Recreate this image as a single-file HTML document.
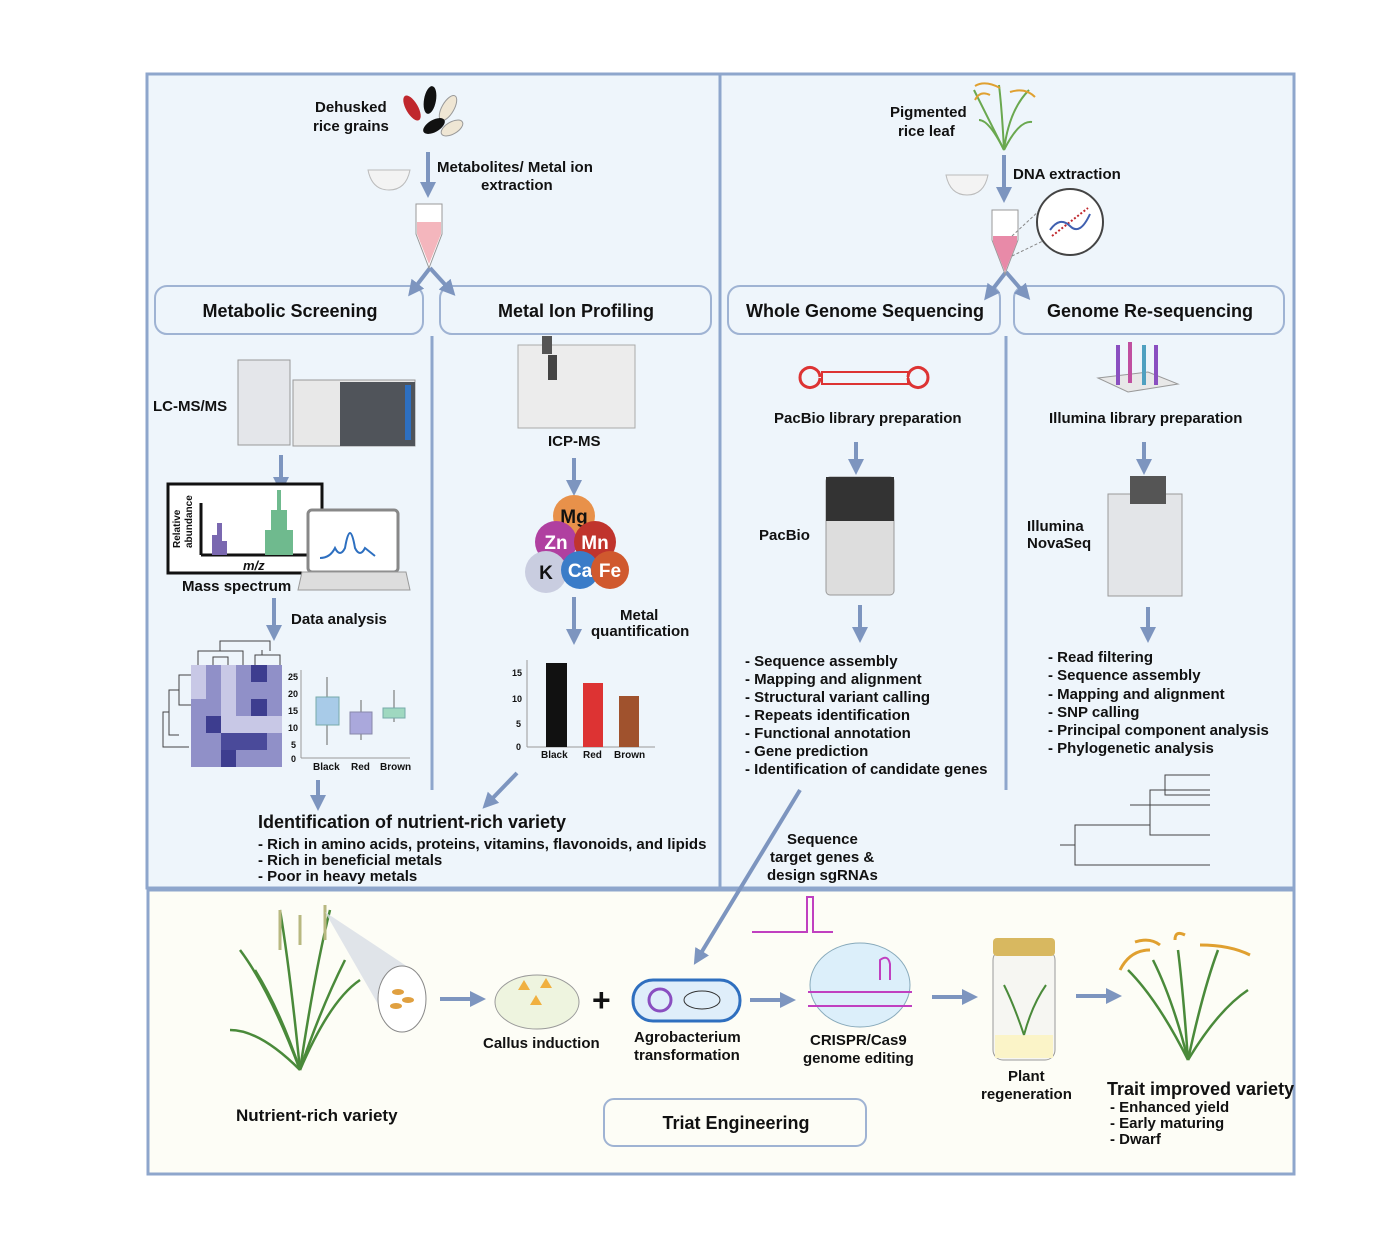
<!DOCTYPE html>
<html><head><meta charset="utf-8"><style>
html,body{margin:0;padding:0;background:#fff}
svg{display:block}
text{font-family:"Liberation Sans",sans-serif;font-weight:bold;fill:#111}
</style></head><body>
<svg width="1392" height="1248" viewBox="0 0 1392 1248" xmlns="http://www.w3.org/2000/svg">
<defs>
<marker id="ah" viewBox="0 0 10 10" refX="5" refY="5" markerWidth="4" markerHeight="4" orient="auto"><path d="M0,0L10,5L0,10z" fill="#7d95bf"/></marker>
</defs>
<rect x="147" y="74" width="573" height="814" fill="#eef5fb" stroke="#8ea6cc" stroke-width="3"/>
<rect x="720" y="74" width="574" height="814" fill="#eef5fb" stroke="#8ea6cc" stroke-width="3"/>
<rect x="148" y="890" width="1146" height="284" fill="#fdfdf6" stroke="#8ea6cc" stroke-width="3"/>
<g fill="#eef5fb" stroke="#9fb3d3" stroke-width="2">
<rect x="155" y="286" width="268" height="48" rx="12"/>
<rect x="440" y="286" width="271" height="48" rx="12"/>
<rect x="728" y="286" width="272" height="48" rx="12"/>
<rect x="1014" y="286" width="270" height="48" rx="12"/>
<rect x="604" y="1099" width="262" height="47" rx="10" fill="#fdfdf6"/>
</g>
<g stroke="#8ea6cc" stroke-width="3"><line x1="432" y1="336" x2="432" y2="790"/><line x1="1006" y1="336" x2="1006" y2="790"/></g>
<g font-size="18" text-anchor="middle">
<text x="290" y="317">Metabolic Screening</text>
<text x="576" y="317">Metal Ion Profiling</text>
<text x="865" y="317">Whole Genome Sequencing</text>
<text x="1150" y="317">Genome Re-sequencing</text>
<text x="736" y="1129">Triat Engineering</text>
</g>
<g stroke="#7d95bf" stroke-width="4" fill="none" marker-end="url(#ah)">
<line x1="428" y1="152" x2="428" y2="190"/>
<line x1="430" y1="268" x2="413" y2="290"/>
<line x1="430" y1="268" x2="450" y2="290"/>
<line x1="1004" y1="155" x2="1004" y2="195"/>
<line x1="1006" y1="272" x2="989" y2="294"/>
<line x1="1006" y1="272" x2="1025" y2="294"/>
<line x1="281" y1="455" x2="281" y2="485"/>
<line x1="274" y1="598" x2="274" y2="633"/>
<line x1="318" y1="780" x2="318" y2="803"/>
<line x1="517" y1="773" x2="488" y2="803"/>
<line x1="574" y1="458" x2="574" y2="488"/>
<line x1="574" y1="597" x2="574" y2="637"/>
<line x1="856" y1="442" x2="856" y2="467"/>
<line x1="860" y1="605" x2="860" y2="635"/>
<line x1="1144" y1="442" x2="1144" y2="467"/>
<line x1="1148" y1="607" x2="1148" y2="635"/>
<line x1="800" y1="790" x2="698" y2="958"/>
<line x1="440" y1="999" x2="478" y2="999"/>
<line x1="750" y1="1000" x2="788" y2="1000"/>
<line x1="932" y1="997" x2="970" y2="997"/>
<line x1="1076" y1="996" x2="1114" y2="996"/>
</g>
<g font-size="15">
<text x="315" y="112">Dehusked</text><text x="313" y="131">rice grains</text>
<text x="437" y="172">Metabolites/ Metal ion</text><text x="481" y="190">extraction</text>
<text x="153" y="411">LC-MS/MS</text>
<text x="182" y="591">Mass spectrum</text>
<text x="291" y="624">Data analysis</text>
<text x="548" y="446">ICP-MS</text>
<text x="620" y="620">Metal</text><text x="591" y="636">quantification</text>
<text x="890" y="117">Pigmented</text><text x="898" y="136">rice leaf</text>
<text x="1013" y="179">DNA extraction</text>
<text x="774" y="423">PacBio library preparation</text>
<text x="759" y="540">PacBio</text>
<text x="1049" y="423">Illumina library preparation</text>
<text x="1027" y="531">Illumina</text><text x="1027" y="548">NovaSeq</text>
<text x="787" y="844">Sequence</text><text x="770" y="862">target genes &amp;</text><text x="767" y="880">design sgRNAs</text>
</g>
<g font-size="15">
<text x="745" y="666">-  Sequence assembly</text>
<text x="745" y="684">-  Mapping and alignment</text>
<text x="745" y="702">-  Structural variant calling</text>
<text x="745" y="720">-  Repeats identification</text>
<text x="745" y="738">-  Functional annotation</text>
<text x="745" y="756">-  Gene prediction</text>
<text x="745" y="774">-  Identification of candidate genes</text>
<text x="1048" y="662">-  Read filtering</text>
<text x="1048" y="680">-  Sequence assembly</text>
<text x="1048" y="699">-  Mapping and alignment</text>
<text x="1048" y="717">-  SNP calling</text>
<text x="1048" y="735">-  Principal component analysis</text>
<text x="1048" y="753">-  Phylogenetic analysis</text>
</g>
<text x="258" y="828" font-size="18">Identification of nutrient-rich variety</text>
<g font-size="15">
<text x="258" y="849">-   Rich in amino acids, proteins, vitamins, flavonoids, and lipids</text>
<text x="258" y="865">-   Rich in beneficial metals</text>
<text x="258" y="881">-   Poor in heavy metals</text>
</g>
<g font-size="15">
<text x="483" y="1048">Callus induction</text>
<text x="634" y="1042">Agrobacterium</text><text x="634" y="1060">transformation</text>
<text x="810" y="1045">CRISPR/Cas9</text><text x="803" y="1063">genome editing</text>
<text x="1008" y="1081">Plant</text><text x="981" y="1099">regeneration</text>
<text x="1110" y="1112">-   Enhanced yield</text>
<text x="1110" y="1128">-   Early maturing</text>
<text x="1110" y="1144">-   Dwarf</text>
</g>
<text x="236" y="1121" font-size="17">Nutrient-rich variety</text>
<text x="1107" y="1095" font-size="18">Trait improved variety</text>
<text x="592" y="1011" font-size="32" font-weight="normal">+</text>
<g><ellipse cx="412" cy="108" rx="6" ry="14" fill="#c0272d" transform="rotate(-30 412 108)"/><ellipse cx="430" cy="100" rx="6" ry="14" fill="#111" transform="rotate(10 430 100)"/><ellipse cx="448" cy="108" rx="6" ry="14" fill="#efe6d4" stroke="#999" transform="rotate(30 448 108)"/><ellipse cx="434" cy="126" rx="6" ry="12" fill="#111" transform="rotate(60 434 126)"/><ellipse cx="452" cy="128" rx="6" ry="12" fill="#efe6d4" stroke="#999" transform="rotate(60 452 128)"/></g>
<path d="M368 170 h42 q-4 20 -21 20 q-17 0 -21 -20z" fill="#f3f3f3" stroke="#bbb"/>
<path d="M946 175 h42 q-4 20 -21 20 q-17 0 -21 -20z" fill="#f3f3f3" stroke="#bbb"/>
<path d="M416 204 h26 v30 l-13 34 l-13 -34z" fill="#fff" stroke="#999"/><path d="M417 222 h24 v12 l-12 30 l-12 -30z" fill="#f4b6bd"/>
<path d="M992 210 h26 v30 l-13 34 l-13 -34z" fill="#fff" stroke="#999"/><path d="M993 236 h24 v6 l-12 30 l-12 -30z" fill="#e88aa8"/>
<line x1="1012" y1="236" x2="1040" y2="210" stroke="#888" stroke-dasharray="3,2"/><line x1="1012" y1="256" x2="1045" y2="240" stroke="#888" stroke-dasharray="3,2"/>
<circle cx="1070" cy="222" r="33" fill="#fff" stroke="#444" stroke-width="2"/>
<path d="M1052 236 l36 -28" stroke="#c0272d" stroke-width="2" fill="none" stroke-dasharray="2,2"/><path d="M1050 230 q10 -14 20 -4 q10 10 20 -12" stroke="#4060b0" stroke-width="2" fill="none"/>
<g stroke="#6aa84f" stroke-width="2" fill="none"><path d="M1004 150 q-20 -40 -30 -60"/><path d="M1004 150 q5 -40 25 -60"/><path d="M1004 150 q-2 -40 -5 -65"/><path d="M1004 150 q-15 -30 -25 -30"/><path d="M1004 150 q15 -30 28 -28"/></g>
<g stroke="#e0a030" stroke-width="2" fill="none"><path d="M990 95 q-10 -5 -15 5"/><path d="M1010 92 q15 -5 25 5"/><path d="M1000 88 q-15 -8 -25 -2"/></g>
<rect x="238" y="360" width="52" height="85" fill="#e4e6ea" stroke="#999"/><rect x="293" y="380" width="122" height="66" fill="#e8e8e8" stroke="#999"/><rect x="340" y="382" width="75" height="64" fill="#50545a"/><rect x="405" y="385" width="6" height="55" fill="#2d6fc0"/>
<rect x="168" y="484" width="154" height="89" fill="#fff" stroke="#111" stroke-width="3"/>
<line x1="201" y1="503" x2="201" y2="555" stroke="#111" stroke-width="3"/><line x1="201" y1="555" x2="315" y2="555" stroke="#111" stroke-width="3"/>
<path d="M212 555 v-20 h5 v-12 h5 v18 h5 v14z" fill="#7a68b0"/><path d="M265 555 v-25 h6 v-20 h6 v-20 h4 v20 h6 v20 h6 v25z" fill="#6fba8e"/>
<text x="243" y="570" font-size="13" font-style="italic" font-weight="normal">m/z</text>
<text x="180" y="548" font-size="10" font-weight="normal" transform="rotate(-90 180 548)">Relative</text><text x="192" y="548" font-size="10" font-weight="normal" transform="rotate(-90 192 548)">abundance</text>
<rect x="308" y="510" width="90" height="62" rx="4" fill="#fff" stroke="#888" stroke-width="3"/><path d="M302 572 h104 l4 18 h-112z" fill="#ddd" stroke="#999"/>
<path d="M320 558 q10 0 15 -10 q5 10 10 0 q5 -30 10 0 q5 10 10 0 l10 8" stroke="#2d6fc0" stroke-width="2" fill="none"/>
<g>
<rect x="191" y="665" width="91" height="102" fill="#9090c8"/>
<rect x="191" y="665" width="15" height="34" fill="#c8c8e6"/><rect x="221" y="665" width="15" height="68" fill="#c8c8e6"/><rect x="251" y="665" width="16" height="17" fill="#3d3d8f"/><rect x="251" y="699" width="16" height="17" fill="#3d3d8f"/><rect x="206" y="716" width="15" height="17" fill="#3d3d8f"/><rect x="236" y="716" width="46" height="17" fill="#c8c8e6"/><rect x="221" y="733" width="46" height="17" fill="#4a4a9a"/><rect x="221" y="750" width="15" height="17" fill="#3d3d8f"/>
</g>
<g stroke="#444" fill="none"><path d="M198 665 v-14 h45 v14 M213 665 v-8 h15 v8 M220 651 v-10 h50 v10 M255 665 v-10 h25 v10 M262 655 v-5 M191 675 h-12 v30 h12 M179 690 h-10 v45 h10 M169 712 h-6 v35 h26"/></g>
<g font-size="9" font-weight="normal" fill="#555"><text x="288" y="680">25</text><text x="288" y="697">20</text><text x="288" y="714">15</text><text x="288" y="731">10</text><text x="291" y="748">5</text><text x="291" y="762">0</text></g>
<line x1="301" y1="670" x2="301" y2="758" stroke="#999"/><line x1="301" y1="758" x2="410" y2="758" stroke="#999"/>
<g stroke="#666"><line x1="327" y1="677" x2="327" y2="745"/><line x1="361" y1="700" x2="361" y2="740"/><line x1="394" y1="690" x2="394" y2="722"/></g>
<rect x="316" y="697" width="23" height="28" fill="#a8cbe8" stroke="#7aa"/><rect x="350" y="712" width="22" height="22" fill="#aaa8dc" stroke="#88a"/><rect x="383" y="708" width="22" height="10" fill="#9fd8c0" stroke="#7aa"/>
<g font-size="10"><text x="313" y="770">Black</text><text x="351" y="770">Red</text><text x="380" y="770">Brown</text></g>
<rect x="518" y="345" width="117" height="83" fill="#ececec" stroke="#aaa"/><rect x="542" y="336" width="10" height="18" fill="#555"/><rect x="548" y="355" width="9" height="25" fill="#444"/>
<g font-size="19" font-weight="normal" text-anchor="middle">
<circle cx="574" cy="516" r="21" fill="#e8914a"/><text x="574" y="523">Mg</text>
<circle cx="556" cy="542" r="21" fill="#b040a0"/><text x="556" y="549" style="fill:#fff">Zn</text>
<circle cx="595" cy="542" r="21" fill="#c0342d"/><text x="595" y="549" style="fill:#fff">Mn</text>
<circle cx="546" cy="572" r="21" fill="#c9cde0"/><text x="546" y="579">K</text>
<circle cx="580" cy="570" r="19" fill="#3a7cc8"/><text x="580" y="577" style="fill:#fff">Ca</text>
<circle cx="610" cy="570" r="19" fill="#d0592e"/><text x="610" y="577" style="fill:#fff">Fe</text>
</g>
<line x1="527" y1="660" x2="527" y2="747" stroke="#999"/><line x1="527" y1="747" x2="655" y2="747" stroke="#999"/>
<rect x="546" y="663" width="21" height="84" fill="#111"/><rect x="583" y="683" width="20" height="64" fill="#d33"/><rect x="619" y="696" width="20" height="51" fill="#a0522d"/>
<g font-size="9" font-weight="normal" fill="#555"><text x="512" y="676">15</text><text x="512" y="702">10</text><text x="516" y="727">5</text><text x="516" y="750">0</text></g>
<g font-size="10"><text x="541" y="758">Black</text><text x="583" y="758">Red</text><text x="614" y="758">Brown</text></g>
<path d="M820 378 a10 10 0 1 1 0 -1 M908 378 a10 10 0 1 0 0 -1" stroke="#d33" stroke-width="3" fill="none"/><rect x="822" y="372" width="86" height="12" fill="none" stroke="#d33" stroke-width="2"/>
<rect x="826" y="477" width="68" height="118" rx="4" fill="#ddd" stroke="#999"/><rect x="826" y="477" width="68" height="44" fill="#333"/>
<path d="M1098 378 l50 -6 l30 12 l-50 8z" fill="#e8e8e8" stroke="#999"/>
<g stroke-width="4"><line x1="1118" y1="345" x2="1118" y2="385" stroke="#8a4fc0"/><line x1="1130" y1="342" x2="1130" y2="383" stroke="#c04fa0"/><line x1="1144" y1="345" x2="1144" y2="385" stroke="#4fa0c0"/><line x1="1156" y1="345" x2="1156" y2="385" stroke="#8a4fc0"/></g>
<rect x="1108" y="494" width="74" height="102" fill="#e3e5e8" stroke="#999"/><rect x="1130" y="476" width="36" height="28" fill="#555"/>
<g stroke="#444" fill="none"><path d="M1060 845 h15 v-20 h75 M1075 845 v20 h135 M1150 825 v-20 h60 M1150 825 v10 h60 M1130 805 h20 v-15 h60 M1165 790 v-15 h45 M1165 790 v5 h45"/></g>
<path d="M752 932 h55 v-35 h6 v35 h20" stroke="#c040c0" stroke-width="2" fill="none"/>
<g stroke="#4a8a3a" stroke-width="2.5" fill="none"><path d="M300 1070 q-30 -80 -60 -120"/><path d="M300 1070 q-10 -100 -20 -160"/><path d="M300 1070 q15 -100 30 -160"/><path d="M300 1070 q30 -70 60 -90"/><path d="M300 1070 q-40 -40 -70 -40"/><path d="M300 1070 q-20 -60 -45 -100"/><path d="M300 1070 q20 -60 45 -110"/></g>
<g stroke="#b8b880" stroke-width="3" fill="none"><path d="M280 910 v40"/><path d="M325 905 v35"/><path d="M300 915 v30"/></g>
<path d="M325 912 L420 975 L390 1025 Z" fill="#d8dde6" opacity="0.8"/>
<ellipse cx="402" cy="999" rx="24" ry="33" fill="#fff" stroke="#888"/>
<g fill="#e0a040"><ellipse cx="398" cy="992" rx="6" ry="3"/><ellipse cx="408" cy="1000" rx="6" ry="3"/><ellipse cx="396" cy="1006" rx="6" ry="3"/></g>
<ellipse cx="537" cy="1002" rx="42" ry="27" fill="#eef4df" stroke="#999"/>
<g fill="#f0b040"><path d="M518 990 l6 -10 l6 10z"/><path d="M540 988 l6 -10 l6 10z"/><path d="M530 1005 l6 -10 l6 10z"/></g>
<rect x="633" y="980" width="107" height="41" rx="20" fill="#dfeefa" stroke="#2f6fbf" stroke-width="3"/>
<circle cx="660" cy="1000" r="11" fill="none" stroke="#8a4fc0" stroke-width="3"/>
<ellipse cx="702" cy="1000" rx="18" ry="9" fill="none" stroke="#333"/>
<ellipse cx="860" cy="985" rx="50" ry="42" fill="#dceffa" stroke="#8ab"/>
<g stroke="#c040c0" stroke-width="2" fill="none"><path d="M808 992 h104 M808 1006 h104"/></g>
<path d="M880 980 v-20 q8 -6 10 4 v16" stroke="#c040c0" stroke-width="2" fill="none"/>
<rect x="993" y="950" width="62" height="110" rx="10" fill="#f6f6f2" stroke="#999"/><rect x="993" y="938" width="62" height="18" rx="4" fill="#d8b860"/><rect x="995" y="1035" width="58" height="23" fill="#fbf4c8"/>
<g stroke="#4a8a3a" stroke-width="2" fill="none"><path d="M1024 1035 q-10 -30 -20 -50"/><path d="M1024 1035 q8 -30 22 -50"/></g>
<g stroke="#4a8a3a" stroke-width="2.5" fill="none"><path d="M1188 1060 q-30 -60 -60 -90"/><path d="M1188 1060 q-5 -70 -10 -110"/><path d="M1188 1060 q15 -70 30 -110"/><path d="M1188 1060 q30 -50 60 -70"/><path d="M1188 1060 q-15 -60 -35 -100"/></g>
<g stroke="#e0a030" stroke-width="3" fill="none"><path d="M1150 950 q-20 0 -30 20"/><path d="M1200 945 q30 0 50 10"/><path d="M1175 940 q0 -10 10 -5"/><path d="M1160 945 q-10 -8 -25 -3"/></g>
</svg>
</body></html>
